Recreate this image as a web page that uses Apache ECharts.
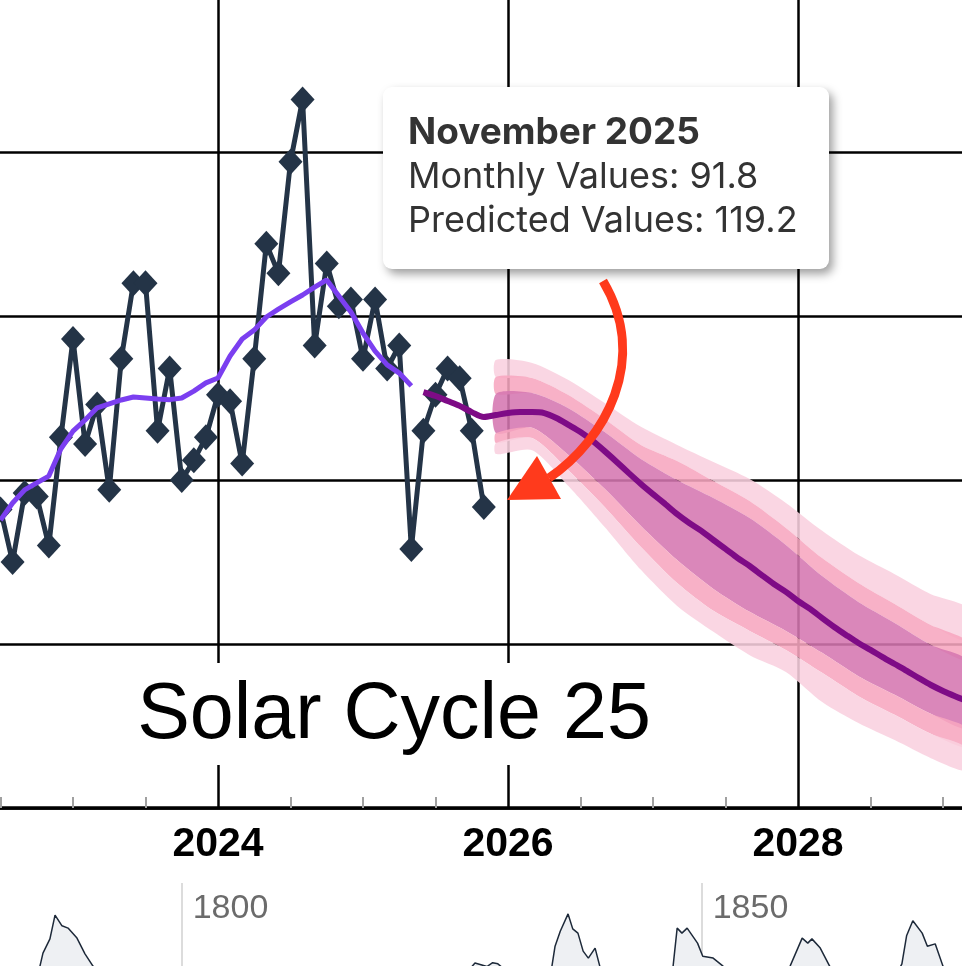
<!DOCTYPE html>
<html>
<head>
<meta charset="utf-8">
<title>Solar Cycle 25</title>
<script src="https://cdn.jsdelivr.net/npm/echarts@6.0.0/dist/echarts.min.js"></script>
<style>
  html, body { margin: 0; padding: 0; background: #fff; }
  #chart { width: 962px; height: 966px; }
</style>
</head>
<body>
<div id="chart"></div>
<script>
// meses
const monthNames = ['January', 'February', 'March', 'April', 'May', 'June', 'July', 'August', 'September', 'October', 'November', 'December'];

// valores mensuales (desde julio 2022)
const monthlyStart = [2022, 7];
const monthlyValues = [91, 75, 96, 95, 80, 113,
  143, 111, 123, 97, 137, 160, 160, 115, 134, 100, 106, 113,
  126, 124, 105, 137, 172, 163, 197, 216, 141, 166, 153, 155,
  137, 155, 134, 141, 79, 115, 126, 134, 131, 115, 91.8];

// valores suavizados (13 meses), desde julio 2022
const smoothStart = [2022, 7];
const smoothValues = [87.8, 93.0, 97.0, 99.1, 101.2, 109.5,
  114.9, 118.3, 122.0, 123.2, 124.4, 125.3, 125.0, 124.7, 124.5, 125.0, 127.1, 129.6,
  131.1, 137.8, 143.0, 145.7, 149.7, 152.1, 154.3, 156.4, 158.8, 161.0, 156.1, 151.2,
  144.8, 139.3, 135.1, 132.6, 128.7];

// prediccion, desde junio 2025
const predStart = [2025, 6];
const predValues = [126.8, 125.6, 124.1, 122.6, 120.7, 119.2, 119.8,
  120.4, 120.7, 120.7, 120.4, 118.9, 116.8, 114.6, 111.9, 108.8, 105.5, 102.1, 98.8,
  95.7, 92.7, 89.6, 86.9, 84.5, 81.7, 79.0, 76.2, 73.8, 71.0, 68.3, 65.9,
  63.1, 60.7, 57.9, 55.2, 52.7, 50.3, 48.2, 46.0, 43.9, 41.8, 39.6, 37.5,
  35.7, 34.1, 32.6];

// bandas de la prediccion (cada 3 meses)
const bandMonths = ['2025-12', '2026-03', '2026-06', '2026-09', '2026-12', '2027-03', '2027-06',
  '2027-09', '2027-12', '2028-03', '2028-06', '2028-09', '2028-12', '2029-03'];
const outerHi = [136.6, 135.7, 130.5, 123.5, 116.2, 110.7, 105.5, 100.3, 93.0, 84.5, 77.1, 71.3, 65.2, 61.0];
const midHi   = [131.4, 131.1, 125.9, 118.6, 110.7, 105.8, 99.7, 93.6, 85.4, 76.2, 68.6, 62.2, 55.8, 50.9];
const innerHi = [126.2, 126.5, 121.9, 114.6, 106.4, 100.0, 94.5, 88.4, 80.2, 70.7, 62.8, 56.4, 49.7, 44.8];
const innerLo = [114.3, 115.9, 107.6, 97.3, 86.0, 75.6, 66.8, 59.8, 54.0, 47.3, 40.2, 34.5, 28.7, 24.4];
const midLo   = [111.3, 112.8, 103.0, 91.8, 79.6, 68.6, 60.1, 54.0, 48.2, 41.2, 34.1, 28.4, 22.6, 18.3];
const outerLo = [107.9, 109.1, 98.2, 85.7, 72.6, 61.6, 53.7, 46.6, 41.5, 32.3, 25.9, 20.7, 15.2, 11.3];

// historico (barra inferior)
const historyYears = [1782.0, 1784.7, 1786.0, 1786.37, 1786.66, 1787.33, 1787.82, 1788.49, 1789.07, 1789.93, 1790.7, 1791.47,
  1793.0, 1798.3, 1804.9, 1810.6, 1816.4, 1823.3, 1827.0, 1828.2, 1829.35, 1829.9, 1830.4, 1831.5, 1833.9,
  1835.0, 1835.6, 1835.9, 1836.4, 1837.15, 1837.6, 1838.1, 1838.6, 1839.1, 1839.75, 1840.2, 1841.5, 1843.5,
  1846.0, 1847.25, 1847.64, 1848.1, 1848.6, 1849.6, 1850.1, 1851.1, 1852.05, 1854.0, 1856.0,
  1858.0, 1858.5, 1859.66, 1860.2, 1860.6, 1861.4, 1862.3, 1864.0, 1867.2,
  1868.6, 1869.25, 1869.7, 1870.3, 1871.2, 1871.7, 1872.45, 1873.2, 1874.5, 1878.9];
const historyValues = [70, 10, 70, 109, 143, 180, 242, 214, 208, 182, 141, 109,
  70, 4, 82, 0, 81, 2, 80, 117, 108, 118, 115, 90, 8,
  60, 109, 161, 200, 245, 206, 195, 148, 130, 156, 109, 60, 12,
  70, 109, 208, 195, 208, 169, 135, 130, 109, 45, 4,
  80, 109, 182, 169, 180, 156, 109, 70, 10,
  80, 115, 188, 227, 195, 161, 167, 109, 80, 4];

const toYear = (y, m) => y + (m - 1) / 12;
const monthSeries = (start, values) => values.map((v, i) => [toYear(start[0], start[1] + i), v]);
const bandX = bandMonths.map(s => toYear(+s.slice(0, 4), +s.slice(5)));

const chart = echarts.init(document.getElementById('chart'));

const renderBands = (params, api) => {
  if (params.dataIndex !== 0) return null;
  const pts = (arr) => arr.map((v, i) => api.coord([bandX[i], v]));
  const ring = (a, b) => pts(a).concat(pts(b).reverse());
  const colors = ['#f9d0df', '#f7a6bf', '#d576b1', '#f7a6bf', '#f9d0df'];
  const edges = [outerHi, midHi, innerHi, innerLo, midLo, outerLo];
  return {
    type: 'group',
    children: colors.map((c, i) => ({
      type: 'polygon',
      shape: { points: ring(edges[i], edges[i + 1]), smooth: 0.25 },
      style: { fill: c, opacity: 0.88 }
    }))
  };
};

const option = {
  animation: false,
  backgroundColor: '#fff',
  grid: [
    { left: -72, right: -126, top: -12, bottom: 158, outerBoundsMode: 'none' },
    { left: -338.3, right: -259.7, top: 883, bottom: -42, outerBoundsMode: 'none' }
  ],
  xAxis: [
    {
      type: 'value', gridIndex: 0, min: 2022, max: 2030, interval: 2,
      axisLine: { show: true, lineStyle: { color: '#000', width: 3.5 } },
      axisTick: { show: false, inside: true },
      minorTick: { show: true, splitNumber: 4, length: 11, lineStyle: { color: '#a0a0a0', width: 2 } },
      splitLine: { show: true, lineStyle: { color: '#000', width: 2.5 } },
      axisLabel: {
        fontFamily: 'Liberation Sans', fontWeight: 'bold', fontSize: 41, color: '#000', margin: 16,
        formatter: (v) => String(v)
      }
    },
    {
      type: 'value', gridIndex: 1, min: 1750, max: 1900, interval: 50, position: 'top',
      axisLine: { show: true, lineStyle: { color: '#9a9a9a', width: 3 } },
      axisTick: { show: false },
      splitLine: { show: true, lineStyle: { color: '#dcdcdc', width: 2 } },
      axisLabel: {
        inside: true, align: 'left', verticalAlign: 'top', margin: 9, padding: [0, 0, 0, 11],
        fontFamily: 'Liberation Sans', fontSize: 34, color: '#6b6b6b',
        formatter: (v) => String(v)
      }
    }
  ],
  yAxis: [
    {
      type: 'value', gridIndex: 0, min: 0, max: 250, interval: 50,
      axisLine: { show: false }, axisTick: { show: false }, axisLabel: { show: false },
      splitLine: { show: true, lineStyle: { color: '#000', width: 2.5 } }
    },
    {
      type: 'value', gridIndex: 1, min: 0, max: 325.5,
      axisLine: { show: false }, axisTick: { show: false }, axisLabel: { show: false },
      splitLine: { show: false }
    }
  ],
  tooltip: {
    trigger: 'item',
    triggerOn: 'none',
    alwaysShowContent: true,
    transitionDuration: 0,
    showDelay: 0,
    position: [383, 87],
    backgroundColor: '#fff',
    borderWidth: 0,
    padding: [22, 25, 28, 25],
    extraCssText: 'width:396px;border-radius:9px;box-shadow:4px 5px 10px rgba(0,0,0,0.38);',
    textStyle: { fontFamily: 'Inter', fontSize: 36, color: '#333' },
    formatter: (p) => {
      const i = p.dataIndex;
      const m = monthlyStart[1] - 1 + i;
      const year = monthlyStart[0] + Math.floor(m / 12);
      const k = (year - predStart[0]) * 12 + (m % 12) - (predStart[1] - 1);
      const pred = k >= 0 && k < predValues.length ? predValues[k].toFixed(1) : '-';
      return '<div style="line-height:44px;font-weight:700;font-size:37px">' + monthNames[m % 12] + ' ' + year + '</div>' +
        '<div style="line-height:44px">Monthly Values: ' + monthlyValues[i] + '</div>' +
        '<div style="line-height:44px">Predicted Values: ' + pred + '</div>';
    }
  },
  series: [
    {
      name: 'Bands', type: 'custom', xAxisIndex: 0, yAxisIndex: 0, z: 1, silent: true,
      renderItem: renderBands,
      data: bandX.map((x, i) => [x, innerHi[i]])
    },
    {
      name: 'Monthly Values', type: 'line', xAxisIndex: 0, yAxisIndex: 0, z: 3,
      data: monthSeries(monthlyStart, monthlyValues),
      symbol: 'diamond', symbolSize: [24, 26], showAllSymbol: true,
      lineStyle: { color: '#243447', width: 5 },
      itemStyle: { color: '#243447' }
    },
    {
      name: 'Smoothed', type: 'line', xAxisIndex: 0, yAxisIndex: 0, z: 4, silent: true,
      data: monthSeries(smoothStart, smoothValues),
      symbol: 'none',
      lineStyle: { color: '#7b3ff0', width: 5 }
    },
    {
      name: 'Predicted Values', type: 'line', xAxisIndex: 0, yAxisIndex: 0, z: 4, silent: true,
      data: monthSeries(predStart, predValues),
      symbol: 'none', smooth: 0.3,
      lineStyle: { color: '#7e0b86', width: 6 }
    },
    {
      name: 'History', type: 'line', xAxisIndex: 1, yAxisIndex: 1, silent: true,
      data: historyYears.map((y, i) => [y, historyValues[i]]),
      symbol: 'none',
      lineStyle: { color: '#1d2939', width: 1.5 },
      areaStyle: { color: '#eef0f3', opacity: 1 }
    }
  ],
  graphic: [
    { type: 'rect', z: 20, shape: { x: 125, y: 663, width: 540, height: 102 }, style: { fill: '#fff' } },
    {
      type: 'text', z: 21, x: 394, y: 716,
      style: { text: 'Solar Cycle 25', fontFamily: 'Liberation Sans', fontSize: 79, fill: '#000', align: 'center', verticalAlign: 'middle' }
    },
    {
      type: 'bezierCurve', z: 30,
      shape: { x1: 603, y1: 281, cpx1: 650, cpy1: 360, cpx2: 605, cpy2: 440, x2: 549, y2: 478 },
      style: { stroke: '#ff3a1c', lineWidth: 9, fill: null }
    },
    {
      type: 'polygon', z: 30,
      shape: { points: [[507, 500], [537, 456], [561, 499]] },
      style: { fill: '#ff3a1c' }
    }
  ]
};

chart.setOption(option);
chart.dispatchAction({ type: 'showTip', seriesIndex: 1, dataIndex: monthlyValues.length - 1 });
</script>
</body>
</html>
